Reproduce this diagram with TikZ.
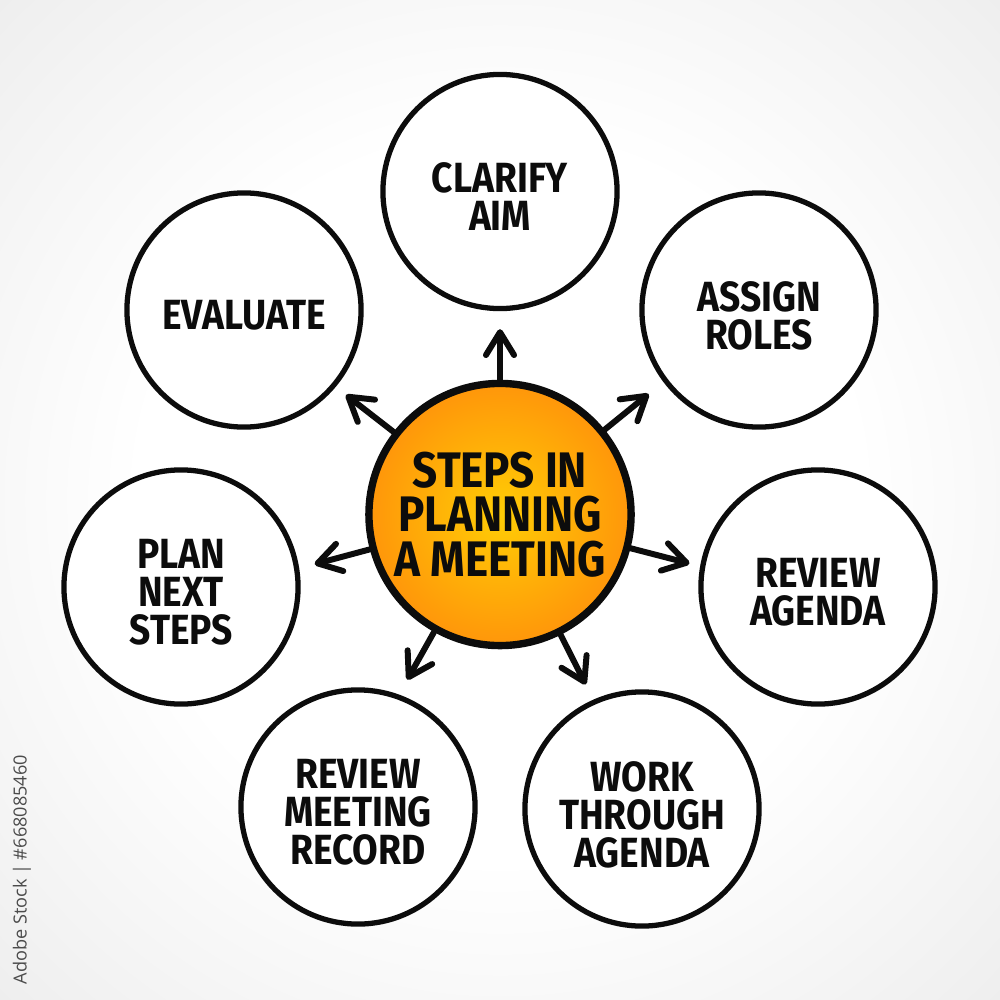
\documentclass[tikz,border=0pt]{standalone}
\usepackage{fontspec}
\setmainfont{Fira Sans}
\newfontfamily\handlab{Fira Sans Bold}[FakeStretch=0.88]
\newfontfamily\sidelab{Open Sans}
\usetikzlibrary{arrows.meta}
\definecolor{inkc}{RGB}{12,12,12}
\definecolor{sidec}{RGB}{75,75,75}
\definecolor{hubin}{RGB}{255,205,5}
\definecolor{hubout}{RGB}{255,150,10}
\pgfdeclareradialshading{bgshade}{\pgfpointorigin}{
  color(0bp)=(white);
  color(18bp)=(white);
  color(34bp)=(black!6);
  color(50bp)=(black!14)}
\tikzset{
  steplab/.style={align=center,inner sep=0pt,text=inkc,yshift=-0.055cm,
    font=\handlab\fontsize{12}{10.8}\selectfont},
  stepcircle/.style={circle,draw=inkc,line width=1.5pt,fill=white,minimum size=2.34cm,inner sep=0pt},
  hub/.style={circle,draw=inkc,line width=2.1pt,minimum size=2.62cm,inner sep=0pt,
    inner color=hubin,outer color=hubout},
  hublab/.style={align=center,inner sep=0pt,text=inkc,
    font=\handlab\fontsize{14.2}{12.6}\selectfont},
  spoke/.style={draw=inkc,line width=1.7pt,line cap=round,
    -{Straight Barb[length=6.5pt,width=8pt,line width=1.7pt,round]}}
}
\begin{document}
\begin{tikzpicture}[x=0.01cm,y=-0.01cm]
\useasboundingbox (0,0) rectangle (1000,1000);
\fill[shading=bgshade] (0,0) rectangle (1000,1000);
\node[hub] (c) at (500,514.5) {};
\node[hublab] (clab) at (c.center) {STEPS IN\\PLANNING\\A MEETING};
\node[stepcircle,label={[steplab]center:CLARIFY\\AIM}] (n1) at (500,191.5) {};
\node[stepcircle,label={[steplab]center:ASSIGN\\ROLES}] (n2) at (759,310) {};
\node[stepcircle,label={[steplab]center:REVIEW\\AGENDA}] (n3) at (818,587) {};
\node[stepcircle,label={[steplab]center:WORK\\THROUGH\\AGENDA}] (n4) at (642,809) {};
\node[stepcircle,label={[steplab]center:REVIEW\\MEETING\\RECORD}] (n5) at (358,807) {};
\node[stepcircle,label={[steplab]center:PLAN\\NEXT\\STEPS}] (n6) at (181,587) {};
\node[stepcircle,label={[steplab]center:EVALUATE}] (n7) at (244,310) {};
\foreach \t/\g in {n1.south/18,n2.217/19,n3.170/11,n4.114/17,n5.70/17,n6.9/16,n7.320/13}{
  \draw[spoke,shorten >=\g*0.01cm] (c) -- (\t);
}
\node[rotate=90,anchor=west,inner sep=0pt,text=sidec,font=\sidelab\fontsize{5.15}{7}\selectfont] (side) at (22,985) {Adobe Stock | \#668085460};
\end{tikzpicture}
\end{document}
